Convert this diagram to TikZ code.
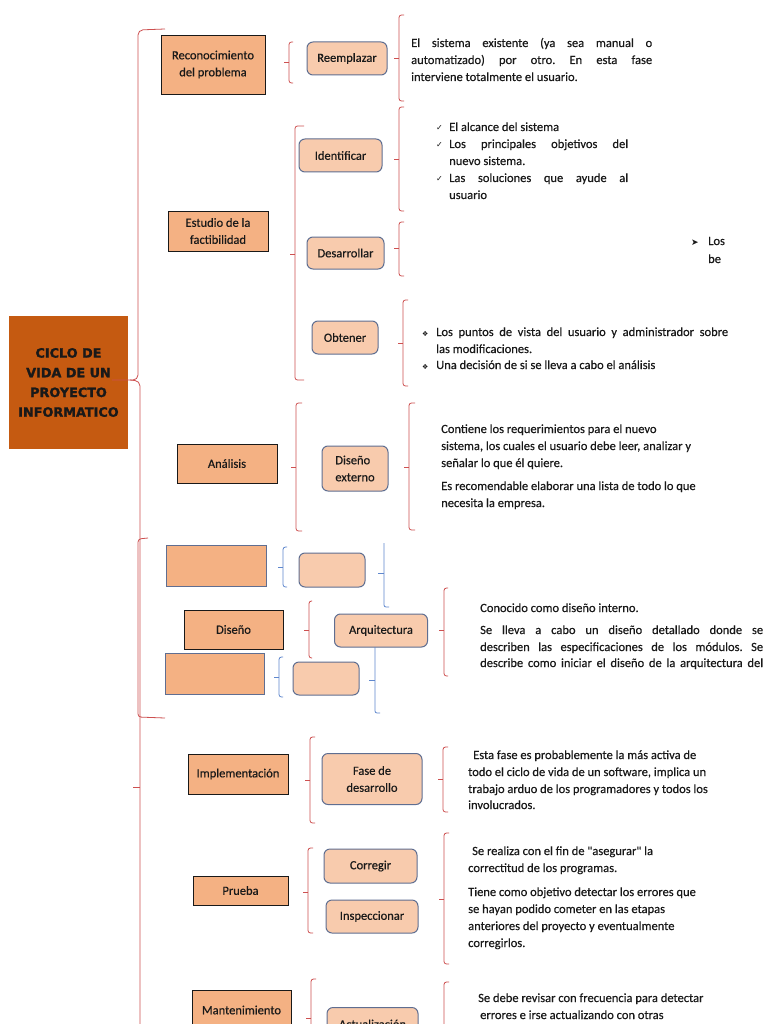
\documentclass[tikz,border=0pt]{standalone}
\usepackage{fontspec}
\setmainfont{Carlito}[FakeBold=0.4, Ligatures=TeXOff]
\newfontfamily\symfont{DejaVu Sans}
\newfontfamily\titlefont{DejaVu Sans}[BoldFeatures={FakeBold=1.6}]
\definecolor{mainfill}{HTML}{C55A11}
\definecolor{ltwofill}{HTML}{F4B183}
\definecolor{lthreefill}{HTML}{F8CBAD}
\definecolor{slate}{RGB}{95,110,145}
\definecolor{brred}{RGB}{205,80,80}
\definecolor{brblue}{RGB}{95,135,205}
\newcommand\bodyfs{\fontsize{12.5}{17}\selectfont\frenchspacing}
% bracket: style, x, top y, bottom y, tick y, arm length
\newcommand\mybrace[6]{%
  \draw[#1,rounded corners=2.5pt] (#2+#6,#3) -- (#2,#3) -- (#2,#4) -- (#2+#6,#4);
  \draw[#1] (#2,#5) -- (#2-5,#5);}
\tikzset{
  rbr/.style={draw=brred, line width=0.8pt},
  bbr/.style={draw=brblue, line width=0.8pt},
  mainbox/.style={fill=mainfill, inner sep=0pt, align=center, text=black!90,
    font=\titlefont\bfseries\fontsize{12.8}{19.7}\selectfont},
  ltwo/.style={draw=black!90, line width=0.9pt, fill=ltwofill, inner sep=0pt,
    align=center, font=\bodyfs, text=black!90},
  ltwoe/.style={ltwo, draw=slate},
  lthree/.style={draw=slate, line width=1pt, fill=lthreefill, rounded corners=6pt,
    inner sep=0pt, align=center, font=\bodyfs, text=black!90},
  txt/.style={anchor=base west, inner sep=0pt, font=\bodyfs, text=black!90},
  sym/.style={anchor=base west, inner sep=0pt, text=black!90},
}
\begin{document}
\begin{tikzpicture}[x=1pt,y=-1pt]
\useasboundingbox (0,0) rectangle (768,1024);
\fill[white] (0,0) rectangle (768,1024);

% ---------- main node ----------
\node[mainbox, minimum width=119, minimum height=133] (ciclo) at (68.5,382.5)
  {CICLO DE\\VIDA DE UN\\PROYECTO\\INFORMATICO};

% ---------- main braces ----------
\draw[rbr, rounded corners=5pt] (165,29) -- (138,30) -- (138,380) -- (112,380);
\draw[rbr, rounded corners=5pt] (130,380) -- (140,381) -- (140,1060);
\draw[rbr] (140,787) -- (133,787);
\draw[rbr, rounded corners=3pt] (148,538) -- (138,539) -- (138,717) -- (165,718);

% ---------- level 2 boxes ----------
\node[ltwo, minimum width=104, minimum height=59] (rec) at (213,64.5) {Reconocimiento\\del problema};
\node[ltwo, minimum width=100, minimum height=40] (est) at (218,231) {Estudio de la\\factibilidad};
\node[ltwo, minimum width=100, minimum height=39] (ana) at (227,463.5) {Análisis};
\node[ltwoe, minimum width=100, minimum height=41] (empa) at (216,565.5) {};
\node[ltwo, minimum width=99, minimum height=39] (dis) at (233.5,629.5) {Diseño};
\node[ltwoe, minimum width=99, minimum height=41] (empb) at (214.5,673.5) {};
\node[ltwo, minimum width=100, minimum height=40] (imp) at (238,774) {Implementación};
\node[ltwo, minimum width=95, minimum height=29] (pru) at (240.5,890.5) {Prueba};
\node[ltwo, minimum width=99, minimum height=40] (man) at (241.5,1010) {Mantenimiento};

% ---------- level 3 boxes ----------
\node[lthree, minimum width=80, minimum height=33] (ree) at (347,58.5) {Reemplazar};
\node[lthree, minimum width=83, minimum height=33] (ide) at (340.5,155.5) {Identificar};
\node[lthree, minimum width=77, minimum height=32] (des) at (345.5,253) {Desarrollar};
\node[lthree, minimum width=66, minimum height=33] (obt) at (345,337.5) {Obtener};
\node[lthree, minimum width=66, minimum height=45, align=left] (dex) at (355,468.5) {Diseño\\externo};
\node[lthree, minimum width=66, minimum height=34] (era) at (332,570) {};
\node[lthree, minimum width=93, minimum height=33] (arq) at (381,630.5) {Arquitectura};
\node[lthree, minimum width=66, minimum height=33] (erb) at (326,678.5) {};
\node[lthree, minimum width=100, minimum height=51] (fas) at (372,779) {Fase de\\desarrollo};
\node[lthree, minimum width=93, minimum height=34] (cor) at (370.5,866) {Corregir};
\node[lthree, minimum width=92, minimum height=33] (ins) at (372,916.5) {Inspeccionar};
\node[lthree, minimum width=91, minimum height=33] (act) at (372.5,1024) {Actualización};

% ---------- brackets ----------
\mybrace{rbr}{289}{42}{83}{62}{4}
\mybrace{rbr}{399}{15}{101}{58}{5}
\mybrace{rbr}{295}{126}{380}{254}{9}
\mybrace{rbr}{399}{107}{211}{159}{5}
\mybrace{rbr}{399}{222}{276}{248}{5}
\mybrace{rbr}{403}{300}{386}{343}{5}
\mybrace{rbr}{296}{403}{531}{467}{6}
\mybrace{rbr}{409}{403}{530}{467}{6}
\mybrace{bbr}{283}{547}{587}{567}{4}
\draw[bbr, rounded corners=2pt] (384,543) -- (384,607) -- (389,607);
\draw[bbr] (384,573) -- (378,573);
\mybrace{rbr}{309}{601}{658}{630}{3}
\mybrace{bbr}{279}{657}{697}{677}{4}
\draw[bbr, rounded corners=2pt] (375,647) -- (375,713) -- (380,713);
\draw[bbr] (375,680) -- (369,680);
\mybrace{rbr}{444}{588}{676}{630}{4}
\mybrace{rbr}{310}{737}{823}{780}{5}
\mybrace{rbr}{443}{747}{812}{779}{5}
\mybrace{rbr}{308}{848}{933}{892}{5}
\mybrace{rbr}{444}{833}{964}{899}{5}
\mybrace{rbr}{311}{979}{1060}{1018}{5}
\mybrace{rbr}{444}{982}{1060}{1045}{5}

% ---------- texts ----------
\node[txt] (ra) at (411,47) {\makebox[241pt][s]{El sistema existente (ya sea manual o}};
\node[txt] (rb) at (411,64) {\makebox[241pt][s]{automatizado) por otro. En esta fase}};
\node[txt] (rc) at (411,81) {interviene totalmente el usuario.};

\node[sym, font=\symfont\fontsize{8}{9}\selectfont] (cka) at (436,131) {✓};
\node[sym, font=\symfont\fontsize{8}{9}\selectfont] (ckb) at (436,148) {✓};
\node[sym, font=\symfont\fontsize{8}{9}\selectfont] (ckc) at (436,182) {✓};
\node[txt] (ia) at (449,131) {El alcance del sistema};
\node[txt] (ib) at (449,148) {\makebox[179pt][s]{Los principales objetivos del}};
\node[txt] (ic) at (449,165) {nuevo sistema.};
\node[txt] (id) at (449,182) {\makebox[179pt][s]{Las soluciones que ayude al}};
\node[txt] (ie) at (449,199) {usuario};

\node[sym, font=\symfont\fontsize{9}{11}\selectfont] (arw) at (691,245) {➤};
\node[txt] (la) at (708,245) {Los};
\node[txt] (lb) at (708,263) {be};

\node[sym, font=\symfont\fontsize{7}{9}\selectfont] (dma) at (422,336) {❖};
\node[sym, font=\symfont\fontsize{7}{9}\selectfont] (dmb) at (422,369) {❖};
\node[txt] (oa) at (436,336) {\makebox[292pt][s]{Los puntos de vista del usuario y administrador sobre}};
\node[txt] (ob) at (436,353) {las modificaciones.};
\node[txt] (oc) at (436,369) {Una decisión de si se lleva a cabo el análisis};

\node[txt] (xa) at (441,433) {Contiene los requerimientos para el nuevo};
\node[txt] (xb) at (441,450) {sistema, los cuales el usuario debe leer, analizar y};
\node[txt] (xc) at (441,467) {señalar lo que él quiere.};
\node[txt] (xd) at (441,490) {Es recomendable elaborar una lista de todo lo que};
\node[txt] (xe) at (441,507) {necesita la empresa.};

\node[txt] (qa) at (480,612) {Conocido como diseño interno.};
\node[txt] (qb) at (480,634) {\makebox[283pt][s]{Se lleva a cabo un diseño detallado donde se}};
\node[txt] (qc) at (480,651) {\makebox[283pt][s]{describen las especificaciones de los módulos. Se}};
\node[txt] (qd) at (480,667) {\makebox[283pt][s]{describe como iniciar el diseño de la arquitectura del}};

\node[txt] (fa) at (473,759) {Esta fase es probablemente la más activa de};
\node[txt] (fb) at (468,776) {todo el ciclo de vida de un software, implica un};
\node[txt] (fc) at (468,793) {trabajo arduo de los programadores y todos los};
\node[txt] (fd) at (468,809) {involucrados.};

\node[txt] (pa) at (472,855) {Se realiza con el fin de "asegurar" la};
\node[txt] (pb) at (468,872) {correctitud de los programas.};
\node[txt] (pc) at (468,896) {Tiene como objetivo detectar los errores que};
\node[txt] (pd) at (468,913) {se hayan podido cometer en las etapas};
\node[txt] (pe) at (468,930) {anteriores del proyecto y eventualmente};
\node[txt] (pf) at (468,947) {corregirlos.};

\node[txt] (ma) at (478,1002) {Se debe revisar con frecuencia para detectar};
\node[txt] (mb) at (480,1019) {errores e irse actualizando con otras};
\end{tikzpicture}
\end{document}
